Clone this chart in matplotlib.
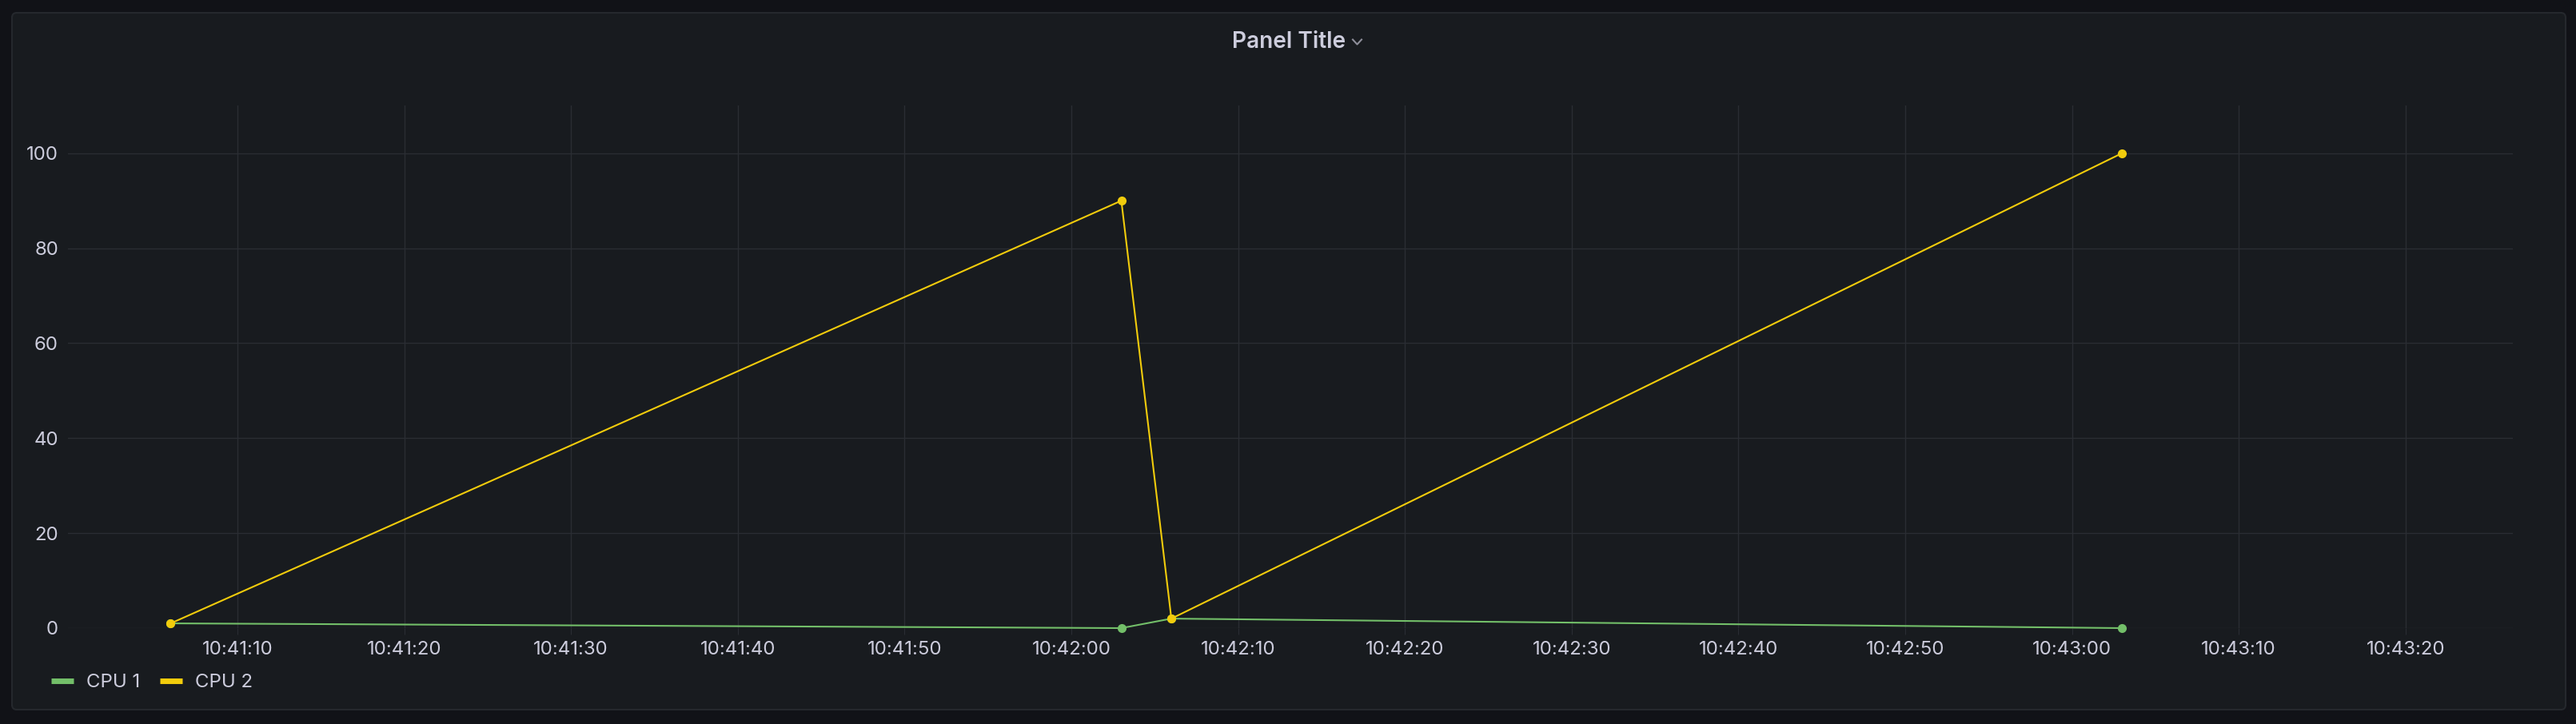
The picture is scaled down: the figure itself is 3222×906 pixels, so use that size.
import datetime as dt
import matplotlib
matplotlib.use("Agg")
import matplotlib.pyplot as plt
import matplotlib.dates as mdates
from matplotlib.patches import FancyBboxPatch
from matplotlib.lines import Line2D

# data
times = ["10:41:06", "10:42:03", "10:42:06", "10:43:03"]
cpu1 = [1, 0, 2, 0]
cpu2 = [1, 90, 2, 100]
series_names = ["CPU 1", "CPU 2"]
tick_labels = ["10:41:10", "10:41:20", "10:41:30", "10:41:40", "10:41:50",
               "10:42:00", "10:42:10", "10:42:20", "10:42:30", "10:42:40",
               "10:42:50", "10:43:00", "10:43:10", "10:43:20"]
y_ticks = [0, 20, 40, 60, 80, 100]

day = "2024-01-01 "
def to_dt(s):
    return dt.datetime.strptime(day + s, "%Y-%m-%d %H:%M:%S")

t = [to_dt(s) for s in times]
ticks = [to_dt(s) for s in tick_labels]

W, H = 3222, 906
def fx(px):
    return px / W
def fy(py):
    return 1 - py / H

plt.rcParams['font.family'] = ['Inter', 'DejaVu Sans']
txt = '#ccccdc'
grid_c = '#2a2d33'
green = '#73bf69'
yellow = '#f2cc0c'

fig = plt.figure(figsize=(32.22, 9.06), dpi=100)
fig.patch.set_facecolor('#111217')

# panel background
panel = FancyBboxPatch((0.15, 0.18), 31.94, 8.72,
                       boxstyle="round,pad=0,rounding_size=0.06",
                       transform=fig.dpi_scale_trans,
                       facecolor='#181b1f', edgecolor='#25282d', linewidth=1.5,
                       zorder=-10)
fig.add_artist(panel)

ax = fig.add_axes([fx(85), fy(786), fx(3142.7) - fx(85), fy(132.3) - fy(786)])
ax.set_facecolor('none')
ax.set_zorder(1)

ax.plot(t, cpu1, color=green, lw=1.5, marker='o', ms=7, clip_on=False, zorder=3)
ax.plot(t, cpu2, color=yellow, lw=1.5, marker='o', ms=7, clip_on=False, zorder=4)

ref = to_dt("10:41:10")
ax.set_xlim(ref - dt.timedelta(seconds=10.16), ref + dt.timedelta(seconds=136.42))
ax.set_ylim(0, 110)
ax.set_xticks(ticks)
ax.xaxis.set_major_formatter(mdates.DateFormatter('%H:%M:%S'))
ax.set_yticks(y_ticks)

for s in ax.spines.values():
    s.set_visible(False)
ax.set_axisbelow(True)
ax.grid(True, color=grid_c, linewidth=1.0)
ax.tick_params(axis='x', direction='out', length=5.8, width=0.8, color=grid_c,
               labelcolor=txt, labelsize=17.3, pad=6)
ax.tick_params(axis='y', length=0, labelcolor=txt, labelsize=17.3, pad=8.6)

# legend
handles = [Line2D([], [], color=green, lw=5, solid_capstyle='butt'),
           Line2D([], [], color=yellow, lw=5, solid_capstyle='butt')]
leg = fig.legend(handles, series_names, loc='center left',
                 bbox_to_anchor=(fx(64), fy(854)), ncol=2, frameon=False,
                 fontsize=17.3, handlelength=1.17, handletextpad=0.68,
                 columnspacing=1.0, borderpad=0, borderaxespad=0)
for tx in leg.get_texts():
    tx.set_color(txt)

# title with dropdown chevron
fig.text(fx(1612), fy(52), "Panel Title", ha='center', va='center',
         color=txt, fontsize=20.2, fontweight='semibold')
fig.add_artist(Line2D([fx(1692), fx(1697.5), fx(1703)], [fy(49.5), fy(55.5), fy(49.5)],
                      color='#8e8e9a', lw=1.5, transform=fig.transFigure))

fig.savefig('out.png', dpi=100, facecolor=fig.get_facecolor())
